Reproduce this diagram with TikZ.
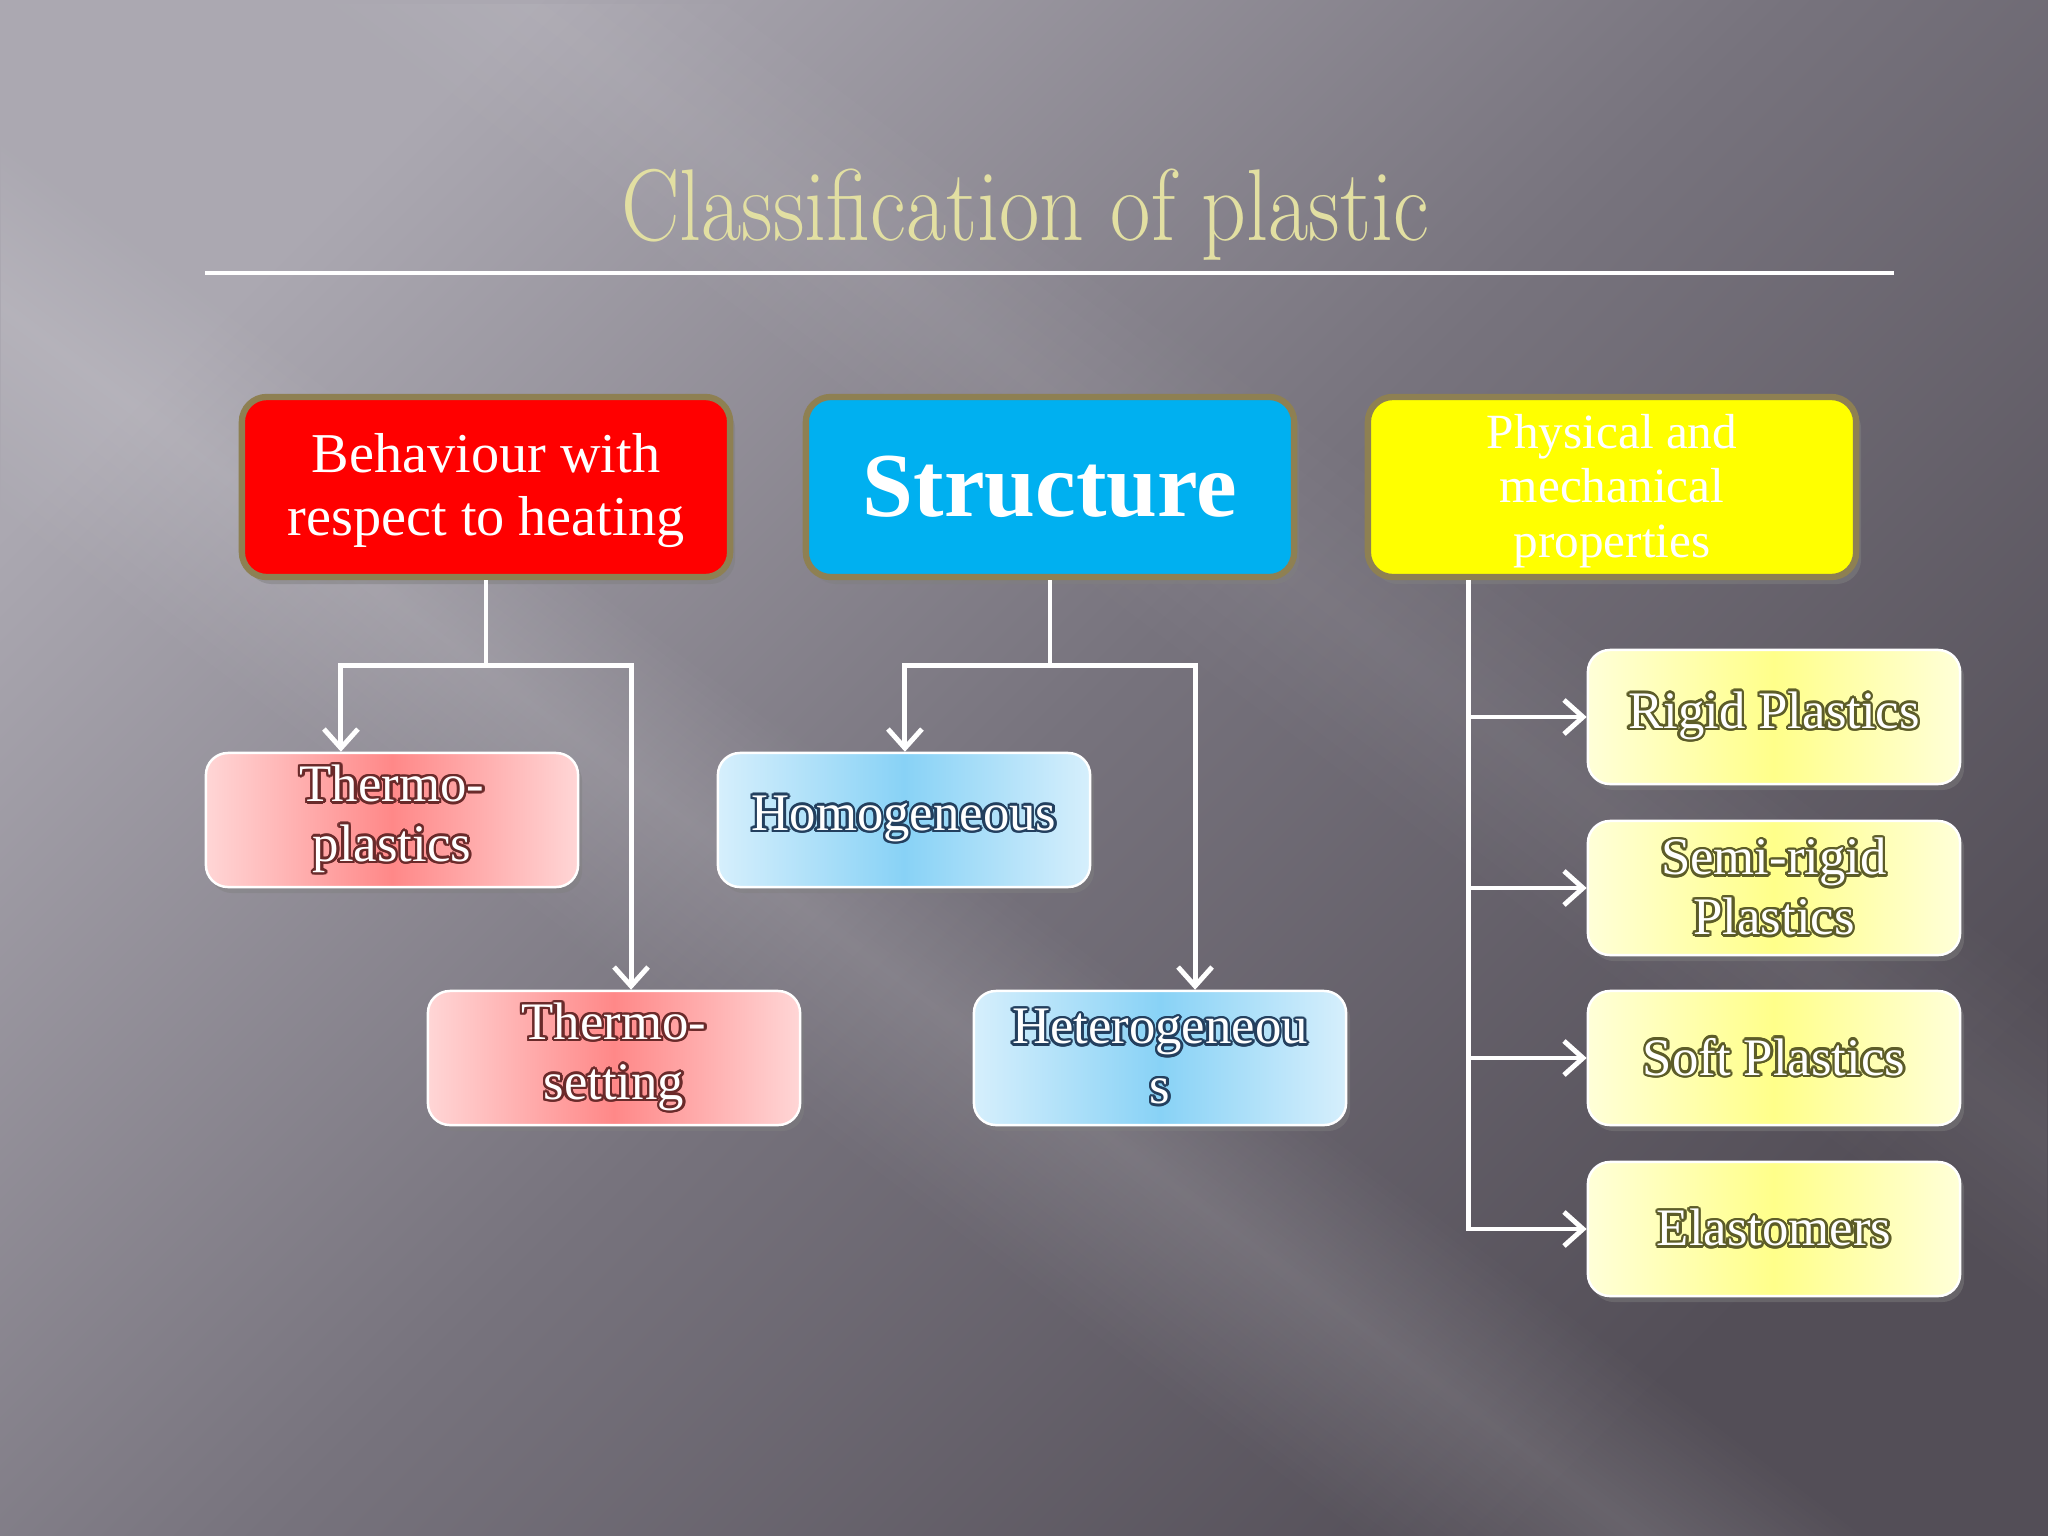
\documentclass[tikz,border=0pt]{standalone}
\usepackage{fontspec}
\usepackage{graphicx}
\usepackage[copies]{contour}
\usetikzlibrary{arrows.meta}
\usetikzlibrary{shadows}
\usetikzlibrary{fadings}
\newfontfamily\boxfont{Liberation Serif}
\newfontfamily\titlefont{Latin Modern Roman}
\definecolor{BgLight}{HTML}{ABA8B1}
\definecolor{BgMid}{HTML}{77737D}
\definecolor{BgDark}{HTML}{534E57}
\definecolor{BoxRim}{HTML}{8E8052}
\definecolor{HeatRed}{HTML}{FF0000}
\definecolor{StructBlue}{HTML}{00B0F0}
\definecolor{PropYellow}{HTML}{FFFF00}
\definecolor{TitleGold}{HTML}{E2DFA2}
\definecolor{RedEdge}{HTML}{FFD6D6}
\definecolor{RedCore}{HTML}{FF8888}
\definecolor{BlueEdge}{HTML}{D6EFFC}
\definecolor{BlueCore}{HTML}{88D2F6}
\definecolor{YelEdge}{HTML}{FFFFD8}
\definecolor{YelCore}{HTML}{FFFF8A}
\definecolor{RedInk}{HTML}{6A2A2A}
\definecolor{BlueInk}{HTML}{233F5E}
\definecolor{YelInk}{HTML}{5C5C28}
\contourlength{0.7pt}

\pgfdeclarehorizontalshading{streakshade}{100bp}{color(0bp)=(black); color(38bp)=(black); color(43bp)=(white); color(47bp)=(black); color(55bp)=(black); color(59bp)=(gray); color(63bp)=(black); color(100bp)=(black)}
\pgfdeclarefading{streaks}{\pgfuseshading{streakshade}}

\tikzset{
  topbox/.style={draw=BoxRim, line width=1.8pt, rounded corners=0.25cm,
    minimum width=4.88cm, minimum height=1.8cm, align=center, text=white,
    drop shadow={shadow xshift=0.05cm, shadow yshift=-0.07cm, opacity=0.5}},
  subbox/.style={draw=white, line width=0.7pt, rounded corners=0.22cm,
    minimum width=3.72cm, minimum height=1.34cm, align=center, text=white,
    font=\boxfont\fontsize{15}{17}\selectfont,
    drop shadow={shadow xshift=0.04cm, shadow yshift=-0.06cm, opacity=0.45}},
  redsub/.style={subbox, left color=RedEdge, right color=RedEdge, middle color=RedCore},
  bluesub/.style={subbox, left color=BlueEdge, right color=BlueEdge, middle color=BlueCore},
  yelsub/.style={subbox, left color=YelEdge, right color=YelEdge, middle color=YelCore},
  branch/.style={draw=white, line width=1.4pt},
  conn/.style={branch, -{Straight Barb[length=0.19cm, width=0.34cm, line width=1.4pt]}},
}

\begin{document}
\begin{tikzpicture}[x=0.01cm, y=-0.01cm]
  \useasboundingbox (0,0) rectangle (2048,1536);
  % backdrop
  \shade[left color=BgLight, right color=BgDark, middle color=BgMid, shading angle=45] (0,0) rectangle (2048,1536);
  \fill[white, opacity=0.12, path fading=streaks, fading angle=45] (0,0) rectangle (2048,1536);

  % title
  \node[font=\titlefont\fontsize{29}{32}\selectfont, text=TitleGold, anchor=base] (title) at (1025,240) {\scalebox{0.86}[1]{Classification of plastic}};
  \draw[white, line width=1.1pt] (205,273) -- (1894,273);

  % top row
  \node[topbox, fill=HeatRed, font=\boxfont\fontsize{16}{17.9}\selectfont] (heat) at (486,487) {\raisebox{-5.5pt}[0pt][0pt]{\begin{tabular}{@{}c@{}}Behaviour with\\respect to heating\end{tabular}}};
  \node[topbox, fill=StructBlue, font=\boxfont\bfseries\fontsize{26}{30}\selectfont] (struct) at (1050,487) {Structure};
  \node[topbox, fill=PropYellow, font=\boxfont\fontsize{14}{15.6}\selectfont] (props) at (1612,487) {\raisebox{-5pt}[0pt][0pt]{\begin{tabular}{@{}c@{}}Physical and\\mechanical\\properties\end{tabular}}};

  % sub classes
  \node[redsub] (tplast) at (392,820) {\contour{RedInk}{Thermo-}\\\contour{RedInk}{plastics}};
  \node[redsub] (tset) at (614,1058) {\contour{RedInk}{Thermo-}\\\contour{RedInk}{setting}};
  \node[bluesub] (homo) at (904,820) {\contour{BlueInk}{Homogeneous}};
  \node[bluesub] (hetero) at (1160,1058) {\contour{BlueInk}{Heterogeneou}\\\contour{BlueInk}{s}};
  \node[yelsub] (rigid) at (1774,717) {\contour{YelInk}{Rigid Plastics}};
  \node[yelsub] (semi) at (1774,888) {\contour{YelInk}{Semi-rigid}\\\contour{YelInk}{Plastics}};
  \node[yelsub] (soft) at (1774,1058) {\contour{YelInk}{Soft Plastics}};
  \node[yelsub] (elast) at (1774,1229) {\contour{YelInk}{Elastomers}};

  % connectors
  \coordinate (heatfork) at ([yshift=-0.85cm]heat.south);
  \coordinate (heatleft) at ([xshift=-1.45cm]heatfork);
  \coordinate (heatright) at ([xshift=1.45cm]heatfork);
  \draw[branch] (heat.south) -- (heatfork);
  \draw[conn] (heatfork) -| (heatleft |- tplast.north);
  \draw[conn] (heatfork) -| (heatright |- tset.north);

  \coordinate (structfork) at ([yshift=-0.85cm]struct.south);
  \coordinate (structleft) at ([xshift=-1.45cm]structfork);
  \coordinate (structright) at ([xshift=1.45cm]structfork);
  \draw[branch] (struct.south) -- (structfork);
  \draw[conn] (structfork) -| (structleft |- homo.north);
  \draw[conn] (structfork) -| (structright |- hetero.north);

  \coordinate (trunk) at ([xshift=-1.435cm]props.south);
  \draw[conn] (trunk) |- (elast.west);
  \foreach \kid in {rigid,semi,soft}
    \draw[conn] (trunk |- \kid.west) -- (\kid.west);
\end{tikzpicture}
\end{document}
